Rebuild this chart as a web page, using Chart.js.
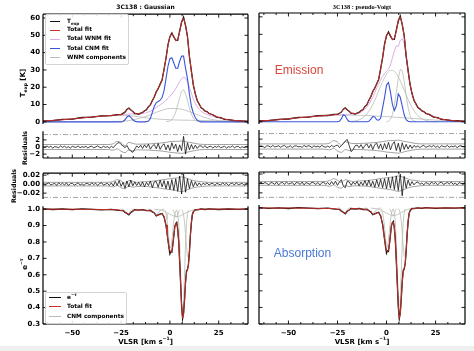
<!DOCTYPE html>
<html>
<head>
<meta charset="utf-8">
<script src="https://cdn.jsdelivr.net/npm/chart.js@4.4.1/dist/chart.umd.min.js"></script>
<style>
html, body { margin: 0; padding: 0; background: #fff; width: 474px; height: 351px; overflow: hidden; position: relative; font-family: 'DejaVu Sans', sans-serif; }
.box { position: absolute; }
.lbl { position: absolute; white-space: nowrap; color: #000; font-weight: bold; line-height: 1; transform: translate(-50%, -50%); }
.rot { transform: translate(-50%, -50%) rotate(-90deg); }
.lbl sub, .lbl sup { font-size: 65%; line-height: 0; }
.leg { position: absolute; background: rgba(255,255,255,0.85); border: 1px solid #d4d4d4; border-radius: 2px; }
.leg i { position: absolute; height: 0; border-top-style: solid; }
.leg span { position: absolute; font-size: 5.8px; font-weight: bold; line-height: 1; transform: translateY(-50%); white-space: nowrap; }
.leg sub, .leg sup { font-size: 70%; line-height: 0; }
</style>
</head>
<body>
<script>
// velocidades (km/s) y espectro de emision
const vEm = [-65,-60,-55,-50,-45,-40,-35,-30,-27,-25,
  -24,-23,-22,-21,-20,-19,-18,-17,-16,-15,
  -14,-13,-12,-11,-10,-9,-8,-7,-6,-5,
  -4,-3,-2,-1,0,1,2,3,4,5,
  6,7,8,9,10,11,12,13,14,15,
  16,17,18,19,20,22,24,26,28,30,
  33,36,40];
const texpEm = [0.6,0.7,1.4,1.6,2.5,2.7,3.5,3.6,4.2,4.2,
  4.9,5.6,7.2,8.0,6.8,6.0,4.8,4.8,4.4,5.0,
  5.4,6.4,7.0,8.8,9.8,12.3,14.3,17.4,19.2,21.8,
  24.2,30.4,36.6,44.5,49.2,51.4,49.0,47.2,47.1,52.5,
  57.6,60.5,55.6,49.4,37.6,29.4,21.2,16.3,12.2,10.3,
  8.1,7.4,6.2,5.9,4.8,4.1,2.7,2.4,1.4,1.3,
  0.7,0.6,0.2];
const fitEm = [0.5,0.8,1.2,1.7,2.3,2.8,3.3,3.7,4.0,4.3,
  4.7,5.8,7.0,7.8,7.0,5.8,5.0,4.7,4.6,4.8,
  5.5,6.2,7.2,8.5,10.0,12.0,14.5,17.0,19.5,21.5,
  24.5,30,37,44,49.5,51,49.5,46.8,47.5,52,
  58,60,56,49,38,29,21.5,16,12.5,10,
  8.3,7.2,6.4,5.7,5.0,3.9,2.9,2.2,1.6,1.2,
  0.8,0.5,0.3];
// Gaussiana
const wnmL = [0.5,0.8,1.2,1.7,2.3,2.8,3.3,3.7,4.0,4.2,
  4.3,4.4,4.4,4.5,4.5,4.5,4.5,4.5,4.5,4.6,
  4.8,5.0,5.3,5.7,6.2,6.8,7.5,8.2,9.0,9.8,
  10.6,11.5,12.5,13.6,14.8,16.0,17.5,19.2,21.2,23.3,
  25.0,25.8,25.2,23.2,20.0,16.5,13.3,10.6,8.6,7.2,
  6.1,5.3,4.7,4.2,3.8,3.1,2.5,2.0,1.6,1.2,
  0.8,0.5,0.3];
const cnmL = [0,0,0,0,0,0,0,0,0,0,
  0.2,1.2,2.8,3.5,2.6,1.2,0.4,0.1,0,0,
  0,0,0.1,0.5,2.0,5.5,9.0,11.0,11.8,12.5,
  14,18,25,32,36.5,37,34,31,31,35,
  38,38,31,25,16,9,5,2.5,1,0.3,
  0,0,0,0,0,0,0,0,0,0,
  0,0,0];
// pseudo-Voigt
const wnmR = [0.5,0.8,1.2,1.7,2.3,2.8,3.3,3.7,4.0,4.2,
  4.3,4.2,4.0,4.0,4.1,4.3,4.4,4.5,4.6,4.7,
  5.0,5.5,6.3,7.3,8.5,10.0,12.0,14.0,16.5,19.5,
  21.5,24.0,26.0,27.5,29.0,30.0,32.5,36.5,40.5,43.5,
  43.0,46.5,47.5,45.0,37.0,28.7,21.5,16.0,12.5,10.0,
  8.3,7.2,6.4,5.7,5.0,3.9,2.9,2.2,1.6,1.2,
  0.8,0.5,0.3];
const cnmR = [0,0,0,0,0,0,0,0,0,0,
  0.3,1.8,4.0,3.4,1.2,0.2,0,0,0,0,
  0,0,0,0,0,0.3,1.5,3.0,2.8,1.2,
  1.0,2.0,8.0,14,21,22.5,17,10,6.5,9,
  16,14,9,4,1.2,0.3,0,0,0,0,
  0,0,0,0,0,0,0,0,0,0,
  0,0,0];

// componentes WNM
const vWide = [-65,-60,-55,-50,-45,-40,-35,-30,-25,-20,-15,-10,-5,0,5,10,15,20,25,30,35,40];
const gL2 = [0,0,0,0,0,0,0.01,0.08,0.3,0.9,2.2,4.1,6.3,7.7,7.5,5.9,3.7,1.8,0.7,0.24,0.06,0.01];
const gL3 = [0.5,0.8,1.2,1.7,2.3,2.8,3.3,3.6,3.8,3.5,2.8,2.0,1.5,1.2,1.0,0.9,0.8,0.7,0.6,0.5,0.4,0.3];
const gR3 = [0.5,0.8,1.2,1.7,2.2,2.7,3.1,3.5,3.7,3.8,3.8,3.6,3.3,3.0,2.6,2.2,1.8,1.4,1.0,0.7,0.4,0.3];
const vG1 = [-2,-1,0,1,2,3,4,5,6,7,8,9,10,11,12,13,14,15,16];
const gL1 = [0.1,0.2,0.5,1.3,3.0,5.8,9.7,14.0,17.6,18.5,16.2,12.3,8.0,4.5,2.1,0.9,0.3,0.1,0];
const vBroadR = [-20,-18,-16,-14,-12,-10,-8,-6,-4,-2,0,2,4,6,8,10,12,14,16,18,20,22,24,26];
const gR1 = [0.07,0.2,0.5,1.1,2.4,4.5,7.8,12.3,17.6,23.0,27.2,29.4,28.8,25.7,20.9,15.4,10.4,6.3,3.5,1.8,0.82,0.35,0.13,0.04];
const vNarR = [0,1,2,3,4,5,6,7,8,9,10,11,12,13,14,15];
const gR2 = [0.1,0.4,1.5,4.1,9.2,16.8,24.9,29.9,29.3,23.4,15.1,8.0,3.4,1.2,0.3,0.1];

// residuos
const vRes = [-65,-64,-63,-62,-61,-60,-59,-58,-57,-56,-55,-54,-53,-52,-51,-50,-49,-48,-47,-46,
  -45,-44,-43,-42,-41,-40,-39,-38,-37,-36,-35,-34,-33,-32,-31,
  -30,-29,-28,-27,-26,-25,-24,-23,-22,-21,-20,-19,-18,-17,-16,
  -15,-14,-13,-12,-11,-10,-9,-8,-7,-6,-5,-4,-3,-2,-1,
  0,1,2,3,4,5,6,7,8,9,10,11,12,13,14,15,
  16,17,18,19,20,21,22,23,24,25,26,27,28,29,30,31,32,33,34,35,36,37,38,39,40];
const resEmL = [0.1,-0.2,0.3,-0.1,0.2,-0.3,0.1,0.0,-0.2,0.3,
  -0.1,0.2,-0.2,0.1,-0.3,0.2,0.0,-0.1,0.3,-0.2,
  0.1,-0.1,0.2,-0.3,0.1,0.2,-0.2,0.0,0.3,-0.1,
  -0.2,0.2,-0.1,0.1,-0.3,
  0.2,-0.2,0.5,1.0,1.3,0.7,0.3,-0.2,0.4,-0.6,-1.2,-1.5,-0.6,0.3,-0.2,
  0.5,-0.4,0.6,-0.2,0.8,-0.6,0.3,0.7,-0.5,1.0,-0.7,0.4,0.9,-0.8,0.6,
  -1.0,1.2,-0.5,0.8,-1.3,0.6,-1.0,3.0,-2.0,1.2,-0.8,0.7,-0.6,0.5,-0.4,0.3,
  0.3,-0.2,0.4,-0.3,0.1,0.2,-0.3,0.2,-0.1,0.3,-0.2,0.0,0.2,-0.3,0.1,-0.1,0.3,-0.2,0.1,0.2,-0.3,0.1,-0.2,0.2,0.0];
const resEmR = [-0.1,0.2,0.0,-0.3,0.2,0.1,-0.2,0.3,-0.1,0.0,
  0.2,-0.2,0.1,0.3,-0.2,-0.1,0.2,-0.3,0.1,0.2,
  -0.1,0.0,-0.2,0.3,-0.1,0.2,0.1,-0.3,0.2,-0.1,
  0.1,-0.2,0.3,0.0,-0.2,
  0.1,-0.2,0.3,-0.1,0.2,0.4,-0.3,0.3,0.8,1.5,1.9,0.2,-1.4,-0.8,0.2,
  0.4,-0.3,0.5,-0.6,0.3,0.7,-0.4,0.6,-0.8,0.5,0.9,-0.6,0.7,-0.9,0.8,
  -0.7,1.1,-0.9,0.6,1.3,-1.1,0.9,-1.4,1.0,-0.8,0.6,-0.7,0.4,-0.5,0.3,-0.2,
  0.2,-0.3,0.1,0.3,-0.2,0.0,0.2,-0.1,0.3,-0.2,0.1,-0.3,0.2,0.0,-0.1,0.3,-0.2,0.1,-0.1,0.2,-0.3,0.1,0.2,-0.1,0.0];
const resAbL = [0.002,-0.003,0.001,0.003,-0.002,0.000,0.002,-0.003,0.003,-0.001,
  0.002,-0.002,0.003,-0.003,0.001,0.002,-0.002,0.000,0.003,-0.002,
  0.001,-0.003,0.002,0.001,-0.002,0.003,-0.001,0.002,-0.003,0.001,
  0.003,-0.002,0.000,0.002,-0.003,
  0.003,-0.004,0.006,-0.003,0.008,-0.005,0.004,-0.009,0.007,-0.006,0.009,-0.004,0.005,-0.003,0.004,
  -0.004,0.005,-0.006,0.004,-0.003,0.007,-0.008,0.005,0.006,-0.007,0.009,-0.006,0.008,-0.010,0.007,
  -0.012,0.010,-0.014,0.012,-0.016,0.018,-0.022,0.022,-0.018,0.012,-0.010,0.008,-0.006,0.005,-0.004,0.003,
  -0.003,0.002,-0.001,0.003,-0.002,0.001,0.002,-0.003,0.002,0.000,-0.002,0.003,-0.001,0.002,-0.003,0.001,0.002,-0.002,0.003,-0.001,0.000,0.002,-0.003,0.001,0.002];
const resAbR = [-0.002,0.003,-0.001,0.002,0.000,-0.003,0.002,0.001,-0.002,0.003,
  -0.003,0.001,0.002,-0.002,0.003,-0.001,0.000,0.002,-0.003,0.002,
  0.001,-0.002,0.003,-0.003,0.002,0.000,-0.002,0.003,0.001,-0.002,
  0.002,-0.003,0.001,0.003,-0.002,
  0.002,-0.003,0.004,-0.002,0.005,-0.004,0.003,0.008,-0.006,-0.009,0.005,0.003,-0.004,0.003,-0.002,
  0.004,-0.005,0.003,-0.004,0.006,-0.005,0.007,-0.006,0.005,-0.008,0.008,-0.007,0.009,-0.009,0.010,
  -0.011,0.012,-0.010,0.014,-0.013,0.016,-0.015,0.020,-0.026,0.015,-0.010,0.007,-0.005,0.004,-0.003,0.002,
  0.003,-0.002,0.001,-0.003,0.002,0.000,-0.002,0.003,-0.001,0.002,-0.003,0.001,0.003,-0.002,0.000,0.002,-0.001,0.003,-0.002,0.001,-0.003,0.002,0.000,-0.002,0.001];
const vEnv = [-65,-50,-40,-32,-29,-27,-25,-23,-21,-19,-17,-15,-10,-5,-2,0,2,4,6,8,10,12,15,20,30,40];
const envEmUp = [0.7,0.7,0.7,0.7,0.9,1.6,1.2,0.3,1.3,1.0,0.8,0.8,0.9,1.1,1.3,1.5,1.6,1.6,1.7,1.5,1.3,1.1,0.8,0.7,0.7,0.7];
const envEmLo = [-0.7,-0.7,-0.7,-0.7,-0.9,-0.5,-1.2,-1.6,-0.8,-1.1,-0.8,-0.8,-0.9,-1.1,-1.3,-1.5,-1.6,-1.7,-1.8,-1.6,-1.3,-1.1,-0.8,-0.7,-0.7,-0.7];
const envAbUp = [0.004,0.004,0.004,0.004,0.006,0.010,0.007,0.002,0.008,0.006,0.004,0.005,0.006,0.009,0.011,0.012,0.013,0.014,0.016,0.014,0.011,0.008,0.006,0.004,0.004,0.004];
const envAbLo = [-0.004,-0.004,-0.004,-0.004,-0.006,-0.003,-0.008,-0.010,-0.004,-0.007,-0.005,-0.005,-0.006,-0.009,-0.011,-0.012,-0.013,-0.015,-0.017,-0.014,-0.011,-0.008,-0.006,-0.004,-0.004,-0.004];

// absorcion e^-tau
const vAbs = [-65,-60,-55,-50,-45,-40,-35,-30,-26,-24,
  -23,-22,-21,-20,-19,-18,-16,-14,-12,-10,
  -9,-8,-7,-6,-5,-4,-3,-2,-1.5,-1,
  -0.5,0,0.5,1,1.5,2,2.5,3,3.5,4,
  4.5,5,5.5,6,6.5,7,7.5,8,8.5,9,
  9.5,10,10.5,11,11.5,12,13,14,16,18,
  20,25,30,35,40];
const absData = [1.002,0.998,1.001,0.997,1.002,0.999,0.996,0.999,0.993,0.991,
  0.980,0.974,0.965,0.980,0.988,0.997,0.994,0.997,0.991,0.992,
  0.983,0.977,0.959,0.965,0.970,0.974,0.952,0.903,0.857,0.812,
  0.766,0.728,0.742,0.738,0.784,0.836,0.894,0.911,0.919,0.876,
  0.804,0.676,0.545,0.405,0.332,0.366,0.446,0.556,0.624,0.631,
  0.664,0.736,0.844,0.917,0.968,0.983,0.997,0.996,1.001,0.998,
  1.002,0.998,1.001,0.999,1.002];
const absFit = [1.000,1.000,0.999,1.000,0.999,0.999,0.998,0.997,0.995,0.990,
  0.982,0.972,0.968,0.978,0.990,0.995,0.996,0.995,0.993,0.990,
  0.985,0.975,0.962,0.962,0.972,0.972,0.955,0.900,0.860,0.810,
  0.770,0.745,0.735,0.745,0.780,0.840,0.890,0.915,0.915,0.880,
  0.800,0.680,0.540,0.410,0.335,0.360,0.450,0.550,0.610,0.635,
  0.660,0.740,0.840,0.920,0.965,0.985,0.995,0.998,0.999,1.000,
  1.000,1.000,1.000,1.000,1.000];
// componentes CNM
const vCA = [-3,-2.5,-2,-1.5,-1,-0.5,0,0.5,1,1.5,2,2.5,3,3.5];
const cA = [0.997,0.991,0.973,0.937,0.881,0.816,0.769,0.764,0.804,0.868,0.927,0.968,0.988,0.997];
const vCB = [3.5,4,4.5,5,5.5,6,6.5,7,7.5,8,8.5,9,9.5];
const cB = [0.993,0.972,0.914,0.792,0.612,0.435,0.360,0.435,0.612,0.792,0.914,0.972,0.993];
const vCC = [6,6.5,7,7.5,8,8.5,9,9.5,10,10.5,11,11.5,12,12.5];
const cC = [0.997,0.988,0.966,0.921,0.851,0.770,0.711,0.705,0.755,0.835,0.909,0.960,0.985,0.996];
const vCD = [-8,-6,-4,-2,0,2,4,6,8,10,12,14,16];
const cD = [0.999,0.997,0.992,0.982,0.969,0.958,0.955,0.963,0.976,0.988,0.995,0.999,1.0];
const vCE = [-25,-24,-23,-22,-21.5,-21,-20,-19,-18];
const cE = [1.0,0.999,0.990,0.974,0.970,0.974,0.990,0.999,1.0];
const vCF = [-11,-10,-9,-8,-7,-6,-5,-4,-3];
const cF = [1.0,0.998,0.991,0.975,0.965,0.975,0.991,0.998,1.0];
const vCG = [1.5,2,2.5,3,3.5,4,4.5,5];
const cG = [0.996,0.987,0.970,0.953,0.951,0.966,0.984,0.995];

// ejes
const xMin = -65, xMax = 40;
const xTicks = [-50, -25, 0, 25];
const xMinor = [-62.5,-56.25,-43.75,-37.5,-31.25,-18.75,-12.5,-6.25,6.25,12.5,18.75,31.25,37.5];
const emTicks = [0, 10, 20, 30, 40, 50, 60];
const resEmTicks = [-2, 0, 2];
const resAbTicks = [-0.02, 0, 0.02];
const absTicks = [0.3, 0.4, 0.5, 0.6, 0.7, 0.8, 0.9, 1.0];
const dashEm = 3.5, dashAb = -0.0295;

const RED = '#c9302a', BLK = '#111', VIO = '#dcaee8', BLU = '#3b55d9', GRY = '#b9bdb4', ENV = '#8a8a8a';

Chart.defaults.font.family = 'DejaVu Sans';

const pts = (xs, ys) => xs.map((x, i) => ({ x: x, y: ys[i] }));
function line(xs, ys, color, w, extra) {
    return Object.assign({ data: pts(xs, ys), borderColor: color, borderWidth: w, pointRadius: 0, tension: 0, fill: false }, extra || {});
}
const smooth = { cubicInterpolationMode: 'monotone' };
const minus = s => String(s).replace('-', '\u2212');

// ticks hacia dentro y marco
const frameTicks = {
    id: 'frameTicks',
    afterDatasetsDraw(chart, args, o) {
        const { ctx, chartArea: a } = chart;
        const sx = chart.scales.x, sy = chart.scales.y;
        ctx.save();
        ctx.strokeStyle = '#000';
        ctx.lineWidth = 0.9;
        ctx.beginPath();
        const hTick = (vals, len) => vals.forEach(v => {
            const px = sx.getPixelForValue(v);
            if (o.sides.includes('t')) { ctx.moveTo(px, a.top); ctx.lineTo(px, a.top + len); }
            if (o.sides.includes('b')) { ctx.moveTo(px, a.bottom); ctx.lineTo(px, a.bottom - len); }
        });
        hTick(xTicks, 3.5);
        hTick(xMinor, 2);
        o.yTicks.forEach(v => {
            const py = sy.getPixelForValue(v);
            ctx.moveTo(a.left, py); ctx.lineTo(a.left + 3.5, py);
            ctx.moveTo(a.right, py); ctx.lineTo(a.right - 3.5, py);
        });
        ctx.stroke();
        ctx.lineWidth = 1.2;
        ctx.beginPath();
        ctx.moveTo(a.left, a.top); ctx.lineTo(a.left, a.bottom);
        ctx.moveTo(a.right, a.top); ctx.lineTo(a.right, a.bottom);
        if (o.sides.includes('t')) { ctx.moveTo(a.left, a.top); ctx.lineTo(a.right, a.top); }
        if (o.sides.includes('b')) { ctx.moveTo(a.left, a.bottom); ctx.lineTo(a.right, a.bottom); }
        ctx.stroke();
        ctx.restore();
    }
};

const colL = { x: 43, w: 205, padL: 43, labels: true };
const colR = { x: 259, w: 206, padL: 5, labels: false };
const rowEm = { y: 13, h: 117, min: -1.25, max: 62.2, ticks: emTicks, fmt: v => String(v), sides: 't' };
const rowRE = { y: 130, h: 34, min: -3.1, max: 4.45, ticks: resEmTicks, fmt: v => minus(v), sides: 'b' };
const rowRA = { y: 172, h: 33, min: -0.033, max: 0.0243, ticks: resAbTicks, fmt: v => minus(v.toFixed(2)), sides: 't' };
const rowAb = { y: 205, h: 119, min: 0.3, max: 1.018, ticks: absTicks, fmt: v => v.toFixed(1), sides: 'b', xlab: true };

const tickFont = { family: 'DejaVu Sans', size: 7, weight: 'bold' };

function panel(col, row, datasets) {
    const padT = 6, padR = 4, padB = row.xlab ? 27 : 6;
    const div = document.createElement('div');
    div.className = 'box';
    div.style.left = (col.x - col.padL) + 'px';
    div.style.top = (row.y - padT) + 'px';
    div.style.width = (col.w + col.padL + padR) + 'px';
    div.style.height = (row.h + padT + padB) + 'px';
    const canvas = document.createElement('canvas');
    div.appendChild(canvas);
    document.body.appendChild(div);
    new Chart(canvas, {
        type: 'line',
        data: { datasets: datasets },
        options: {
            responsive: true,
            maintainAspectRatio: false,
            animation: false,
            layout: { padding: { left: 0, top: padT, right: padR, bottom: row.xlab ? 0 : padB } },
            plugins: { legend: { display: false }, tooltip: { enabled: false }, frameTicks: { sides: row.sides, yTicks: row.ticks } },
            scales: {
                x: {
                    type: 'linear', min: xMin, max: xMax, display: !!row.xlab,
                    grid: { display: false, drawTicks: false }, border: { display: false },
                    afterBuildTicks: ax => { ax.ticks = xTicks.map(v => ({ value: v })); },
                    afterFit: s => { s.height = padB; },
                    ticks: { font: tickFont, color: '#000', padding: 5, autoSkip: false, maxRotation: 0, callback: v => minus(v) }
                },
                y: {
                    type: 'linear', min: row.min, max: row.max,
                    grid: { display: false, drawTicks: false }, border: { display: false },
                    afterBuildTicks: ax => { ax.ticks = row.ticks.map(v => ({ value: v })); },
                    afterFit: s => { s.width = col.padL; },
                    ticks: { display: col.labels, font: tickFont, color: '#000', padding: 3, callback: v => row.fmt(v) }
                }
            }
        },
        plugins: [frameTicks]
    });
}

function emSets(wnm, cnm, comps) {
    return [
        line(vEm, fitEm, RED, 1),
        line(vEm, texpEm, BLK, 1.3),
        line(vEm, cnm, BLU, 1.1)
    ].concat([line(vEm, wnm, VIO, 1)]).concat(comps);
}
function resSets(res, up, lo, level) {
    return [
        line(vRes, res, BLK, 0.8),
        line(vEnv, up, ENV, 0.8, smooth),
        line(vEnv, lo, ENV, 0.8, smooth),
        line([xMin, xMax], [level, level], '#9a9a9a', 0.9, { borderDash: [5, 2, 1, 2] })
    ];
}
function absSets() {
    return [
        line(vAbs, absFit, RED, 1),
        line(vAbs, absData, BLK, 1.3),
        line(vCA, cA, GRY, 0.8), line(vCB, cB, GRY, 0.8), line(vCC, cC, GRY, 0.8),
        line(vCD, cD, GRY, 0.8, smooth), line(vCE, cE, GRY, 0.8), line(vCF, cF, GRY, 0.8),
        line(vCG, cG, GRY, 0.8)
    ];
}

panel(colL, rowEm, emSets(wnmL, cnmL, [
    line(vG1, gL1, GRY, 0.8), line(vWide, gL2, GRY, 0.8, smooth), line(vWide, gL3, GRY, 0.8, smooth)]));
panel(colR, rowEm, emSets(wnmR, cnmR, [
    line(vBroadR, gR1, GRY, 0.8, smooth), line(vNarR, gR2, GRY, 0.8), line(vWide, gR3, GRY, 0.8, smooth)]));
panel(colL, rowRE, resSets(resEmL, envEmUp, envEmLo, dashEm));
panel(colR, rowRE, resSets(resEmR, envEmUp, envEmLo, dashEm));
panel(colL, rowRA, resSets(resAbL, envAbUp, envAbLo, dashAb));
panel(colR, rowRA, resSets(resAbR, envAbUp, envAbLo, dashAb));
panel(colL, rowAb, absSets());
panel(colR, rowAb, absSets());

// textos
function label(html, cx, cy, style, rot) {
    const d = document.createElement('div');
    d.className = 'lbl' + (rot ? ' rot' : '');
    d.innerHTML = html;
    d.style.left = cx + 'px';
    d.style.top = cy + 'px';
    d.style.cssText += style;
    document.body.appendChild(d);
}
label('3C138 : Gaussian', 145.5, 6.5, 'font-size:6px;');
label('3C138 : pseudo-Voigt', 362, 6.5, "font-size:6.4px;font-family:'Liberation Serif',serif;");
label('T<sub>exp</sub> [K]', 23, 83, 'font-size:7px;', true);
label('Residuals', 25, 148, 'font-size:6.3px;', true);
label('Residuals', 14, 186, 'font-size:6.3px;', true);
label('e<sup>\u2212\u03c4</sup>', 25, 264, 'font-size:7px;', true);
label('VLSR [km s<sup>\u22121</sup>]', 145.5, 342, 'font-size:7px;');
label('VLSR [km s<sup>\u22121</sup>]', 362, 342, 'font-size:7px;');
label('Emission', 299, 70, "font-size:12px;font-weight:normal;color:#d9483b;font-family:'Liberation Sans',sans-serif;");
label('Absorption', 302.5, 253, "font-size:12px;font-weight:normal;color:#4a78d8;font-family:'Liberation Sans',sans-serif;");

function legend(x, y, w, h, items, lx0, lx1, tx) {
    const box = document.createElement('div');
    box.className = 'leg';
    box.style.left = x + 'px'; box.style.top = y + 'px';
    box.style.width = w + 'px'; box.style.height = h + 'px';
    items.forEach(it => {
        const l = document.createElement('i');
        l.style.left = lx0 + 'px'; l.style.width = (lx1 - lx0) + 'px';
        l.style.top = (it.y - 0.5) + 'px';
        l.style.borderTopColor = it.c; l.style.borderTopWidth = it.w + 'px';
        const s = document.createElement('span');
        s.innerHTML = it.t;
        s.style.left = tx + 'px'; s.style.top = it.y + 'px';
        box.appendChild(l); box.appendChild(s);
    });
    document.body.appendChild(box);
}
legend(45, 14, 82, 49, [
    { t: 'T<sub>exp</sub>', c: BLK, w: 1, y: 6.5 },
    { t: 'Total fit', c: RED, w: 1, y: 15.3 },
    { t: 'Total WNM fit', c: VIO, w: 1, y: 24.3 },
    { t: 'Total CNM fit', c: BLU, w: 1.2, y: 33.5 },
    { t: 'WNM components', c: GRY, w: 1, y: 42.8 }
], 4, 14, 21);
legend(45, 292, 80, 30, [
    { t: 'e<sup>\u2212\u03c4</sup>', c: BLK, w: 1, y: 4.5 },
    { t: 'Total fit', c: RED, w: 1, y: 13.7 },
    { t: 'CNM components', c: GRY, w: 1, y: 23.5 }
], 3, 15, 21);

const band = document.createElement('div');
band.style.cssText = 'position:absolute;left:0;top:346px;width:474px;height:5px;background:#f0f0f0;';
document.body.appendChild(band);
</script>
</body>
</html>
